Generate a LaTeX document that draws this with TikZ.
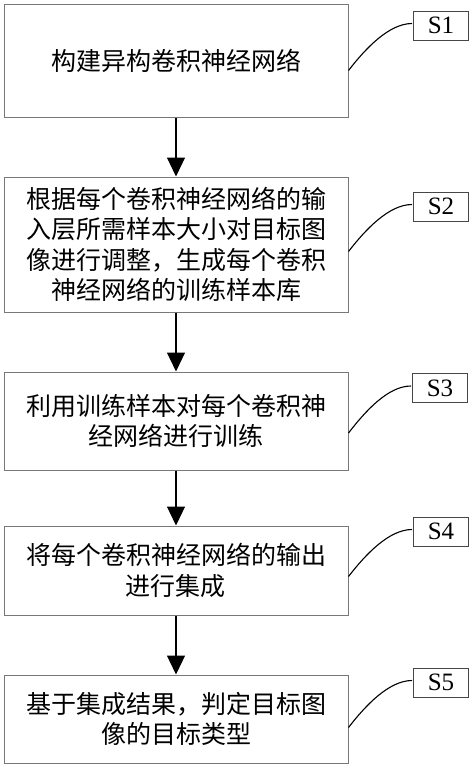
\documentclass[tikz,border=0pt]{standalone}
\usepackage{fontspec}
\setmainfont{Liberation Serif}
\newfontfamily\cjk{Noto Sans CJK SC}
\usepackage{tikz}
\usetikzlibrary{arrows.meta, positioning, calc}
\definecolor{boxgray}{RGB}{120, 120, 120}
\definecolor{labelgray}{RGB}{70, 70, 70}
\tikzset{
  stepbox/.style={draw=boxgray, line width=1pt, minimum width=344pt, inner sep=0pt, align=center, font=\cjk\fontsize{25}{30.5}\selectfont},
  steplabel/.style={draw=labelgray, line width=0.9pt, minimum width=55pt, minimum height=29pt, inner sep=0pt, font=\fontsize{25}{28}\selectfont},
  flowarrow/.style={-{Triangle[length=19pt, width=18pt]}, line width=1.2pt, black},
  leader/.style={line width=1.1pt, black}
}

\begin{document}
\begin{tikzpicture}[x=1pt, y=-1pt]
  \useasboundingbox (0, 0) rectangle (474, 768);

  % Steps
  \node[stepbox, minimum height=112pt] (s1) at (176, 61) {构建异构卷积神经网络};
  \node[stepbox, minimum height=135pt] (s2) at (176, 244.5) {根据每个卷积神经网络的输\\入层所需样本大小对目标图\\像进行调整，生成每个卷积\\神经网络的训练样本库};
  \node[stepbox, minimum height=98pt] (s3) at (176, 421) {利用训练样本对每个卷积神\\经网络进行训练};
  \node[stepbox, minimum height=89pt] (s4) at (176, 570.5) {将每个卷积神经网络的输出\\进行集成};
  \node[stepbox, minimum height=88pt] (s5) at (176, 719) {基于集成结果，判定目标图\\像的目标类型};

  \draw[flowarrow] (s1) -- (s2);
  \draw[flowarrow] (s2) -- (s3);
  \draw[flowarrow] (s3) -- (s4);
  \draw[flowarrow] (s4) -- (s5);

  % Step labels
  \node[steplabel] (l1) at (441, 25.5) {S1};
  \node[steplabel] (l2) at (441, 206.5) {S2};
  \node[steplabel] (l3) at (440, 388) {S3};
  \node[steplabel] (l4) at (441, 531.5) {S4};
  \node[steplabel] (l5) at (441, 682.5) {S5};

  \foreach \i in {1, ..., 5} {
    \path (l\i.west) ++(0, 45) coordinate (t\i);
    \coordinate (c\i) at (s\i.east |- t\i);
    \draw[leader] (c\i) .. controls ($(c\i) + (17, -22)$) and ($(l\i.west) + (-24, -2)$) .. ($(l\i.west) + (-1, -2)$);
  }
\end{tikzpicture}
\end{document}
